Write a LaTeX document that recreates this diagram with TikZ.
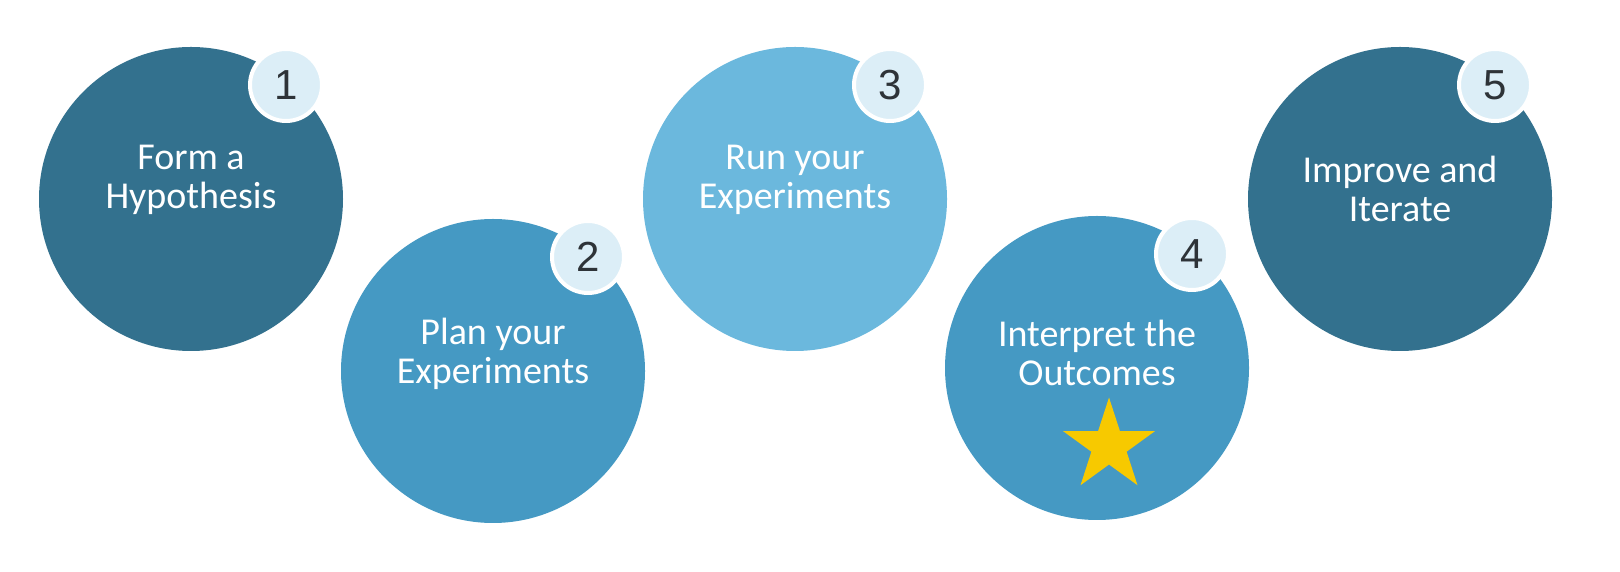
\documentclass[tikz,border=0pt]{standalone}
\usepackage{fontspec}
\setmainfont{Carlito}
\newfontfamily\numfont{Liberation Sans}
\usetikzlibrary{shapes.geometric, positioning, calc}

\definecolor{deepteal}{HTML}{33718E}
\definecolor{midblue}{HTML}{4599C3}
\definecolor{skyblue}{HTML}{6BB8DD}
\definecolor{badgeblue}{HTML}{DCEEF7}
\definecolor{numgray}{HTML}{2E3338}
\definecolor{stargold}{HTML}{F7C900}

\tikzset{
  stepdisc/.style={circle, fill=#1, minimum size=152pt, inner sep=0pt},
  steptext/.style={text=white, align=center, font=\fontsize{19}{19.5}\selectfont},
  badge/.style={circle, fill=badgeblue, draw=white, line width=2pt, minimum size=36pt,
    inner sep=0pt, text=numgray, font=\numfont\fontsize{21}{21}\selectfont},
}

\begin{document}
\begin{tikzpicture}[x=0.5pt, y=0.5pt]
    \useasboundingbox (0,0) rectangle (1620,572);
    % the five steps
    \node[stepdisc=deepteal] (s1) at (191,373) {};
    \node[stepdisc=midblue]  (s2) at (493,201) {};
    \node[stepdisc=skyblue]  (s3) at (795,373) {};
    \node[stepdisc=midblue]  (s4) at (1097,204) {};
    \node[stepdisc=deepteal] (s5) at (1400,373) {};
    % labels
    \node[steptext] (t1) at ([yshift=9.5pt]s1.center) {Form a\\Hypothesis};
    \node[steptext] (t2) at ([yshift=8.5pt]s2.center) {Plan your\\Experiments};
    \node[steptext] (t3) at ([yshift=9.5pt]s3.center) {Run your\\Experiments};
    \node[steptext] (t4) at ([yshift=7.5pt]s4.center) {Interpret the\\Outcomes};
    \node[steptext] (t5) at ([yshift=5pt]s5.center) {Improve and\\Iterate};
    % number badges
    \node[badge] (n1) at ($(s1.center)+(95,114)$) {1};
    \node[badge] (n2) at ($(s2.center)+(95,114)$) {2};
    \node[badge] (n3) at ($(s3.center)+(95,114)$) {3};
    \node[badge] (n4) at ($(s4.center)+(95,114)$) {4};
    \node[badge] (n5) at ($(s5.center)+(95,114)$) {5};
    % star
    \node[star, star points=5, star point ratio=2.618, fill=stargold, minimum size=48.5pt,
      inner sep=0pt] (goldstar) at ($(s4.center)+(12,-78)$) {};
\end{tikzpicture}
\end{document}
